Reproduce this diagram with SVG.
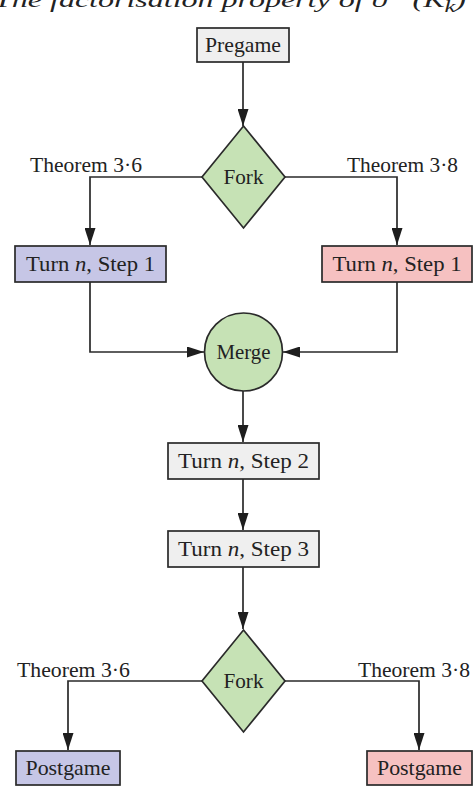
<svg xmlns="http://www.w3.org/2000/svg" width="474" height="786" viewBox="0 0 474 786" font-family="'Liberation Serif', 'DejaVu Serif', serif">
<defs>
<style>
text{font-family:'Liberation Serif','DejaVu Serif',serif}
.txt{font-size:21px;fill:#222}
.it{font-style:italic}
.box{stroke:#2a2a2a;stroke-width:1.7}
.grey{fill:#efefef}
.purple{fill:#c6c6e6}
.pink{fill:#f6c1c1}
.green{fill:#c6e2b5}
.edge{fill:none;stroke:#2a2a2a;stroke-width:1.7;marker-end:url(#arr)}
</style>
<marker id="arr" markerUnits="userSpaceOnUse" markerWidth="17" markerHeight="11" refX="17" refY="5.5" orient="auto">
<path d="M0,0 L17,5.5 L0,11 z" fill="#1e1e1e"/>
</marker>
</defs>
<rect width="474" height="786" fill="#ffffff"/>
<g id="title">
<text class="txt it" x="-6" y="7" font-size="24" textLength="472" lengthAdjust="spacingAndGlyphs">The factorisation property of ϑ<tspan dy="-8" font-size="16">ω</tspan><tspan dy="8"> (K</tspan><tspan dy="5" font-size="16">k</tspan><tspan dy="-5">)</tspan></text>
</g>
<g id="connectors">
<path class="edge" d="M243,62 V126"/>
<path class="edge" d="M202,177 H90 V245"/>
<path class="edge" d="M285,177 H397 V245"/>
<path class="edge" d="M90,282 V352 H204"/>
<path class="edge" d="M397,282 V352 H283"/>
<path class="edge" d="M243,391 V442"/>
<path class="edge" d="M243,479 V530"/>
<path class="edge" d="M243,567 V629"/>
<path class="edge" d="M202,681 H68 V750"/>
<path class="edge" d="M285,681 H419 V750"/>
<text class="txt" x="30" y="172" textLength="112" lengthAdjust="spacingAndGlyphs">Theorem 3·6</text>
<text class="txt" x="347" y="172" textLength="111" lengthAdjust="spacingAndGlyphs">Theorem 3·8</text>
<text class="txt" x="17" y="677" textLength="113" lengthAdjust="spacingAndGlyphs">Theorem 3·6</text>
<text class="txt" x="358" y="677" textLength="112" lengthAdjust="spacingAndGlyphs">Theorem 3·8</text>
</g>
<g id="pregame">
<rect class="box grey" x="197" y="28" width="92" height="34"/>
<text class="txt" x="243" y="51.5" text-anchor="middle" textLength="76" lengthAdjust="spacingAndGlyphs">Pregame</text>
</g>
<g id="fork1">
<polygon class="box green" points="243.5,126 285,177 243.5,228 202,177"/>
<text class="txt" x="243.5" y="183.5" text-anchor="middle" textLength="40" lengthAdjust="spacingAndGlyphs">Fork</text>
</g>
<g id="step1-left">
<rect class="box purple" x="15" y="246" width="151" height="36"/>
<text class="txt" x="90.5" y="270.5" text-anchor="middle" textLength="129" lengthAdjust="spacingAndGlyphs">Turn <tspan class="it">n</tspan>, Step 1</text>
</g>
<g id="step1-right">
<rect class="box pink" x="322" y="246" width="150" height="36"/>
<text class="txt" x="397" y="270.5" text-anchor="middle" textLength="129" lengthAdjust="spacingAndGlyphs">Turn <tspan class="it">n</tspan>, Step 1</text>
</g>
<g id="merge">
<circle class="box green" cx="243.5" cy="352" r="39"/>
<text class="txt" x="243.5" y="358.5" text-anchor="middle" textLength="54" lengthAdjust="spacingAndGlyphs">Merge</text>
</g>
<g id="step2">
<rect class="box grey" x="168" y="443" width="151" height="36"/>
<text class="txt" x="243.5" y="467.5" text-anchor="middle" textLength="131" lengthAdjust="spacingAndGlyphs">Turn <tspan class="it">n</tspan>, Step 2</text>
</g>
<g id="step3">
<rect class="box grey" x="168" y="531" width="151" height="36"/>
<text class="txt" x="243.5" y="555.5" text-anchor="middle" textLength="131" lengthAdjust="spacingAndGlyphs">Turn <tspan class="it">n</tspan>, Step 3</text>
</g>
<g id="fork2">
<polygon class="box green" points="243.5,630 285,681 243.5,732 202,681"/>
<text class="txt" x="243.5" y="687.5" text-anchor="middle" textLength="40" lengthAdjust="spacingAndGlyphs">Fork</text>
</g>
<g id="postgame-left">
<rect class="box purple" x="16" y="751" width="104" height="34"/>
<text class="txt" x="68" y="774.5" text-anchor="middle" textLength="85" lengthAdjust="spacingAndGlyphs">Postgame</text>
</g>
<g id="postgame-right">
<rect class="box pink" x="367" y="751" width="105" height="34"/>
<text class="txt" x="419.5" y="774.5" text-anchor="middle" textLength="85" lengthAdjust="spacingAndGlyphs">Postgame</text>
</g>
</svg>
